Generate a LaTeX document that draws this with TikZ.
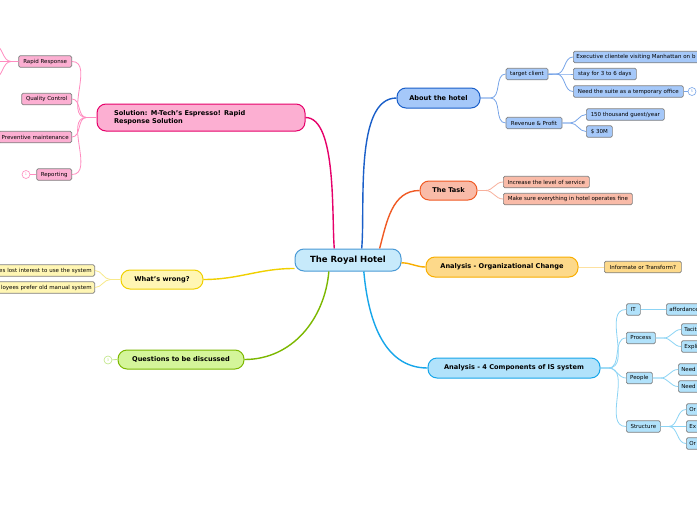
\documentclass[tikz,border=0pt]{standalone}
\usepackage{fontspec}
\setmainfont{DejaVu Sans}
\usetikzlibrary{positioning}
\definecolor{rootfill}{RGB}{199,234,251}
\definecolor{rootline}{RGB}{74,154,214}
\definecolor{aboutline}{RGB}{26,95,201}
\definecolor{aboutfill}{RGB}{165,200,249}
\definecolor{abouttwig}{RGB}{120,165,232}
\definecolor{taskline}{RGB}{240,90,36}
\definecolor{taskfill}{RGB}{249,187,168}
\definecolor{tasktwig}{RGB}{248,176,156}
\definecolor{orgline}{RGB}{249,174,0}
\definecolor{orgfill}{RGB}{253,217,138}
\definecolor{orgtwig}{RGB}{253,225,160}
\definecolor{isline}{RGB}{23,166,234}
\definecolor{isfill}{RGB}{177,226,251}
\definecolor{istwig}{RGB}{140,212,245}
\definecolor{solline}{RGB}{230,0,106}
\definecolor{solfill}{RGB}{252,175,210}
\definecolor{soltwig}{RGB}{255,140,192}
\definecolor{wrongline}{RGB}{240,208,0}
\definecolor{wrongfill}{RGB}{255,246,180}
\definecolor{wrongtwig}{RGB}{248,233,138}
\definecolor{qline}{RGB}{124,184,0}
\definecolor{qfill}{RGB}{212,245,154}
\definecolor{qtwig}{RGB}{190,230,130}

\begin{document}
\begin{tikzpicture}[x=1pt,y=-1pt,
  root/.style={rectangle,rounded corners=9pt,draw=rootline,fill=rootfill,line width=1pt,
               minimum width=106pt,minimum height=22pt,font=\bfseries\fontsize{8.5}{10}\selectfont},
  branch/.style={rectangle,rounded corners=9pt,line width=1pt,minimum height=20pt,
                 inner xsep=8pt,font=\bfseries\fontsize{6.6}{7.8}\selectfont},
  leaf/.style={rectangle,rounded corners=1.5pt,draw=black!50,line width=0.7pt,
               minimum height=11.5pt,inner xsep=3pt,inner ysep=1pt,font=\fontsize{5.5}{6.5}\selectfont},
  cut/.style={leaf,anchor=west,text width=60pt,align=left},
  cutl/.style={leaf,anchor=east,text width=110pt,align=right},
  trunk/.style={line width=1.4pt},
  twig/.style={line width=0.8pt},
  badge/.style={circle,draw,line width=0.6pt,inner sep=0pt,minimum size=8pt,
                font=\fontsize{3.5}{4}\selectfont}
]
\useasboundingbox[fill=white] (0,0) rectangle (697,520);
\clip (0,0) rectangle (697,520);
% main nodes
\node[root] (hotel) at (348,260) {The Royal Hotel};
\node[branch,draw=aboutline,fill=aboutfill,minimum width=83pt] (about) at (438.5,98) {About the hotel};
\node[branch,draw=taskline,fill=taskfill,minimum width=57pt,minimum height=19pt] (task) at (448.5,190.5) {The Task};
\node[branch,draw=orgline,fill=orgfill,minimum width=152pt] (org) at (502,267) {Analysis - Organizational Change};
\node[branch,draw=isline,fill=isfill,minimum width=172pt] (is) at (514,368) {Analysis - 4 Components of IS system};
\node[branch,draw=solline,fill=solfill,minimum width=208pt,minimum height=27pt,text width=174pt,
      align=left,inner xsep=17pt] (sol) at (201,117.5) {Solution: M-Tech's Espresso! Rapid\\Response Solution};
\node[branch,draw=wrongline,fill=wrongfill,minimum width=82pt,minimum height=19pt] (wrong) at (162,279.5) {What's wrong?};
\node[branch,draw=qline,fill=qfill,minimum width=126pt,minimum height=19pt] (quest) at (181,359.5) {Questions to be discussed};
% about the hotel
\node[leaf,fill=aboutfill,minimum width=42pt] (client) at (527,74) {target client};
\node[leaf,fill=aboutfill,minimum width=56pt] (revenue) at (534,123) {Revenue \& Profit};
\node[leaf,fill=aboutfill,anchor=west,text width=150pt,align=left] (exec) at (573,57) {Executive clientele visiting Manhattan on b};
\node[leaf,fill=aboutfill,anchor=west,minimum width=63pt] (stay) at (573,74) {stay for 3 to 6 days};
\node[leaf,fill=aboutfill,anchor=west,minimum width=110pt] (suite) at (573,91.5) {Need the suite as a temporary office};
\node[badge,draw=abouttwig,text=abouttwig] (five) at (692,91.5) {5};
\node[leaf,fill=aboutfill,anchor=west,minimum width=78pt] (guests) at (586,114.5) {150 thousand guest/year};
\node[leaf,fill=aboutfill,anchor=west,minimum width=26pt] (money) at (586,131.5) {\$ 30M};
% the task
\node[leaf,fill=taskfill,anchor=west,minimum width=86pt] (service) at (503,182) {Increase the level of service};
\node[leaf,fill=taskfill,anchor=west,minimum width=129pt] (operate) at (503,199) {Make sure everything in hotel operates fine};
% organizational change
\node[leaf,fill=orgfill,anchor=west,minimum width=77pt] (inform) at (604,267) {Informate or Transform?};
% IS components
\node[leaf,fill=isfill,anchor=west,minimum width=14pt] (it) at (626,309.5) {IT};
\node[leaf,fill=isfill,anchor=west,minimum width=29pt] (process) at (626,338) {Process};
\node[leaf,fill=isfill,anchor=west,minimum width=26pt] (people) at (626,378) {People};
\node[leaf,fill=isfill,anchor=west,minimum width=34pt] (structure) at (626,426.5) {Structure};
\node[cut,fill=isfill] (afford) at (666,309.5) {affordance};
\node[cut,fill=isfill] (tacit) at (681,329.5) {Tacit};
\node[cut,fill=isfill] (expli) at (681,346.5) {Expli};
\node[cut,fill=isfill] (needa) at (678,369.5) {Need};
\node[cut,fill=isfill] (needb) at (678,386.5) {Need};
\node[cut,fill=isfill] (ora) at (686,409.5) {Or};
\node[cut,fill=isfill] (exb) at (686,426.5) {Ex};
\node[cut,fill=isfill] (orc) at (686,443.5) {Or};
% solution
\node[leaf,fill=solfill,anchor=east,minimum width=53pt] (rapid) at (72,61.5) {Rapid Response};
\node[leaf,fill=solfill,anchor=east,minimum width=50pt] (quality) at (72,99) {Quality Control};
\node[leaf,fill=solfill,anchor=east,minimum width=73pt] (prevent) at (72,137) {Preventive maintenance};
\node[leaf,fill=solfill,anchor=east,minimum width=35pt] (report) at (72,174.5) {Reporting};
\node[badge,draw=soltwig,text=soltwig] (one) at (26,174.5) {1};
\coordinate (rapida) at (-6,45);
\coordinate (rapidb) at (-6,61.5);
\coordinate (rapidc) at (-6,78);
% what's wrong
\node[cutl,fill=wrongfill] (interest) at (95,270.5) {es lost interest to use the system};
\node[cutl,fill=wrongfill] (manual) at (95,287.5) {loyees prefer old manual system};
% questions
\node[badge,draw=qtwig,text=qtwig] (three) at (108,360) {3};
% trunks
\draw[trunk,aboutline] (hotel.40) to[out=85,in=180,looseness=0.7] (about.west);
\draw[trunk,solline] (hotel.140) to[out=95,in=0,looseness=0.6] (sol.east);
\draw[trunk,taskline] (hotel.20) to[out=75,in=180] (task.west);
\draw[trunk,orgline] (hotel.-3) to[out=0,in=180] (org.west);
\draw[trunk,isline] (hotel.-36) to[out=-85,in=180] (is.west);
\draw[trunk,wrongline] (hotel.-171) to[out=180,in=0] (wrong.east);
\draw[trunk,qline] (hotel.-149) to[out=-95,in=0] (quest.east);
% twigs
\draw[twig,abouttwig] (about.east) -- ++(10,0) to[out=0,in=180] (client.west);
\draw[twig,abouttwig] (about.east) -- ++(10,0) to[out=0,in=180] (revenue.west);
\draw[twig,abouttwig] (client.east) -- ++(8,0) to[out=0,in=180] (exec.west);
\draw[twig,abouttwig] (client.east) -- ++(8,0) to[out=0,in=180] (stay.west);
\draw[twig,abouttwig] (client.east) -- ++(8,0) to[out=0,in=180] (suite.west);
\draw[twig,abouttwig] (revenue.east) -- ++(8,0) to[out=0,in=180] (guests.west);
\draw[twig,abouttwig] (revenue.east) -- ++(8,0) to[out=0,in=180] (money.west);
\draw[twig,abouttwig] (suite.east) -- (five);
\draw[twig,tasktwig] (task.east) -- ++(8,0) to[out=0,in=180] (service.west);
\draw[twig,tasktwig] (task.east) -- ++(8,0) to[out=0,in=180] (operate.west);
\draw[twig,orgtwig] (org.east) -- (inform.west);
\draw[twig,istwig] (is.east) -- ++(8,0) to[out=0,in=180] (it.west);
\draw[twig,istwig] (is.east) -- ++(8,0) to[out=0,in=180] (process.west);
\draw[twig,istwig] (is.east) -- ++(8,0) to[out=0,in=180] (people.west);
\draw[twig,istwig] (is.east) -- ++(8,0) to[out=0,in=180] (structure.west);
\draw[twig,istwig] (it.east) -- (afford.west);
\draw[twig,istwig] (process.east) -- ++(8,0) to[out=0,in=180] (tacit.west);
\draw[twig,istwig] (process.east) -- ++(8,0) to[out=0,in=180] (expli.west);
\draw[twig,istwig] (people.east) -- ++(8,0) to[out=0,in=180] (needa.west);
\draw[twig,istwig] (people.east) -- ++(8,0) to[out=0,in=180] (needb.west);
\draw[twig,istwig] (structure.east) -- ++(8,0) to[out=0,in=180] (ora.west);
\draw[twig,istwig] (structure.east) -- (exb.west);
\draw[twig,istwig] (structure.east) -- ++(8,0) to[out=0,in=180] (orc.west);
\draw[twig,soltwig] (sol.west) -- ++(-10,0) to[out=180,in=0] (rapid.east);
\draw[twig,soltwig] (sol.west) -- ++(-10,0) to[out=180,in=0] (quality.east);
\draw[twig,soltwig] (sol.west) -- ++(-10,0) to[out=180,in=0] (prevent.east);
\draw[twig,soltwig] (sol.west) -- ++(-10,0) to[out=180,in=0] (report.east);
\draw[twig,soltwig] (rapid.west) -- ++(-7,0) to[out=180,in=0] (rapida);
\draw[twig,soltwig] (rapid.west) -- (rapidb);
\draw[twig,soltwig] (rapid.west) -- ++(-7,0) to[out=180,in=0] (rapidc);
\draw[twig,soltwig] (report.west) -- (one);
\draw[twig,wrongtwig] (wrong.west) -- ++(-10,0) to[out=180,in=0] (interest.east);
\draw[twig,wrongtwig] (wrong.west) -- ++(-10,0) to[out=180,in=0] (manual.east);
\draw[twig,qtwig] (quest.west) -- (three);
\end{tikzpicture}
\end{document}
